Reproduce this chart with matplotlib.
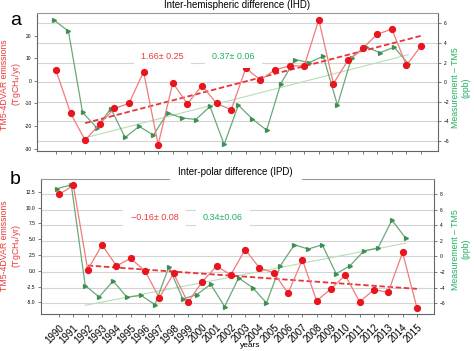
import matplotlib
matplotlib.use('Agg')
import matplotlib.pyplot as plt

plt.rcParams['font.family'] = ['Liberation Sans', 'DejaVu Sans']

years = list(range(1990, 2016))

# inter-hemispheric difference
ihd_emis = [4.7, -14.3, -26.3, -19.0, -12.2, -10.0, 4.0, -28.2, -0.9, -10.2, -2.1, -10.0, -12.8,
            5.6, 0.4, 4.9, 6.6, 6.6, 27.0, -1.2, 9.1, 14.3, 20.6, 22.9, 6.8, 15.5]
ihd_meas = [6.3, 5.2, -3.08, -4.64, -2.68, -5.63, -4.5, -5.39, -3.12, -3.63, -3.8, -2.47, -6.34,
            -2.34, -3.76, -4.88, -0.14, 2.3, 2.0, 2.64, -2.34, 2.5, 3.6, 3.0, 3.56, 1.9]
ihd_emis_trend = [-18.7, 19.9]
ihd_meas_trend = [-5.73, 2.8]

# inter-polar difference
ipd_emis = [12.1, 13.5, 0.16, 4.1, 0.8, 1.95, 0.0, -4.27, -0.42, -5.0, -1.74, 0.74, -0.63,
            3.37, 0.47, -0.32, -3.53, 1.74, -4.74, -2.85, -0.69, -4.9, -3.0, -3.37, 2.9, -5.8]
ipd_meas = [8.7, 9.17, -3.75, -5.2, -3.15, -5.25, -5.0, -6.18, -1.36, -5.46, -4.9, -3.58, -6.44,
            -2.77, -4.0, -5.97, -1.19, 1.49, 0.94, 1.49, -2.22, -1.19, 0.72, 1.07, 4.65, 2.3]
ipd_emis_trend = [0.84, -2.85]
ipd_meas_trend = [-6.28, 1.7]

trend_years = [1992, 2015]

RED = '#e8141e'
RED_LINE = '#f27a7a'
GREEN = '#3f8f52'
GREEN_LINE = '#6aa878'
GREEN_TXT = '#22b060'
SPINE = '#666666'

fig = plt.figure(figsize=(4.74, 3.51), dpi=100)


def panel(rect, emis, meas, emis_tr, meas_tr, xl_red, xl_green, yl_red, yl_green,
          red_ticks, red_labels, green_ticks, txt_red, txt_green, tx, ty, last):
    axg = fig.add_axes(rect)
    axr = fig.add_axes(rect, label='red', facecolor='none')

    # green: measurement - TM5 (right axis), own x scale
    axg.plot(years, meas, color=GREEN_LINE, lw=0.9, marker='>', ms=2.8,
             mfc=GREEN, mec=GREEN, zorder=3)
    axg.plot(trend_years, meas_tr, color='#b8dcb8', lw=0.8, zorder=2)
    axg.set_xlim(*xl_green)
    axg.set_ylim(*yl_green)
    axg.set_yticks(green_ticks)
    axg.yaxis.tick_right()
    axg.tick_params(axis='y', labelsize=3.5, length=2, width=0.6, color=SPINE, pad=2)
    axg.set_xticks([])
    axg.grid(axis='y', color='#d4d4d4', lw=0.8)
    axg.set_axisbelow(True)
    for s in axg.spines.values():
        s.set_color(SPINE)
        s.set_linewidth(0.8)
    axg.spines['top'].set_color('#999999')

    # red: TM5-4DVAR emissions (left axis)
    axr.plot(years, emis, color=RED_LINE, lw=0.9, marker='o', ms=4.2,
             mfc=RED, mec=RED, zorder=3)
    axr.plot(trend_years, emis_tr, color='#e8333a', lw=1.3, ls=(0, (3, 1.5)), zorder=2)
    axr.set_xlim(*xl_red)
    axr.set_ylim(*yl_red)
    axr.set_yticks(red_ticks)
    axr.set_yticklabels(red_labels)
    axr.set_xticks(years)
    axr.tick_params(axis='y', labelsize=3.5, length=2, width=0.6, color=SPINE, pad=2)
    axr.tick_params(axis='x', length=2.5, width=0.6, color=SPINE)
    if last:
        axr.set_xticklabels([str(y) for y in years], rotation=45, ha='right',
                            rotation_mode='anchor', fontsize=7)
    else:
        axr.set_xticklabels([])
    for s in axr.spines.values():
        s.set_visible(False)

    bb = dict(boxstyle='square,pad=0.8', fc='white', ec='none')
    axr.text(tx[0], ty, txt_red, color='#ea3a3a', fontsize=6.5, ha='center', va='center',
             transform=axr.transAxes, bbox=bb, zorder=5)
    axr.text(tx[1], ty, txt_green, color=GREEN_TXT, fontsize=6.5, ha='center', va='center',
             transform=axr.transAxes, bbox=bb, zorder=5)
    return axr, axg


panel([0.078, 0.570, 0.846, 0.393], ihd_emis, ihd_meas, ihd_emis_trend, ihd_meas_trend,
      (1988.7, 2016.16), (1988.78, 2017.1), (-31, 30), (-7, 7.05),
      [-30, -20, -10, 0, 10, 20], ['-30', '-20', '-10', '0', '10', '20'],
      [-6, -4, -2, 0, 2, 4, 6], '1.66\u00b1 0.25', '0.37\u00b1 0.06', (0.312, 0.489), 0.688, False)

panel([0.086, 0.105, 0.830, 0.384], ipd_emis, ipd_meas, ipd_emis_trend, ipd_meas_trend,
      (1988.72, 2016.21), (1988.81, 2017.03), (-6.85, 14.46), (-7.41, 9.88),
      [-5, -2.5, 0, 2.5, 5, 7.5, 10, 12.5], ['-5.0', '-2.5', '0.0', '2.5', '5.0', '7.5', '10.0', '12.5'],
      [-6, -4, -2, 0, 2, 4, 6, 8], '\u22120.16\u00b1 0.08', '0.34\u00b10.06', (0.289, 0.4635), 0.72, True)

# titles, panel letters, axis labels
fig.text(0.50, 0.985, 'Inter-hemispheric difference (IHD)', fontsize=7, ha='center', va='center')
fig.text(0.497, 0.51, 'Inter-polar difference (IPD)', fontsize=7, ha='center', va='center',
         bbox=dict(boxstyle='square,pad=0.9', fc='white', ec='none'))
fig.text(0.032, 0.943, 'a', fontsize=14, ha='center', va='center')
fig.text(0.032, 0.49, 'b', fontsize=14, ha='center', va='center')

for yc in (0.76, 0.30):
    fig.text(0.024, yc, 'TM5-4DVAR emissions\n(TgCH$_4$/yr)', color='#ea3a3a', fontsize=6.3,
             rotation=90, ha='center', va='center', multialignment='center', linespacing=1.1)
    fig.text(0.972, yc - 0.01, 'Measurement \u2013 TM5\n(ppb)', color=GREEN_TXT, fontsize=6.3,
             rotation=90, ha='center', va='center', multialignment='center', linespacing=1.1)

fig.text(0.528, 0.017, 'years', fontsize=6, ha='center', va='center')

fig.savefig('out.png', dpi=100)
